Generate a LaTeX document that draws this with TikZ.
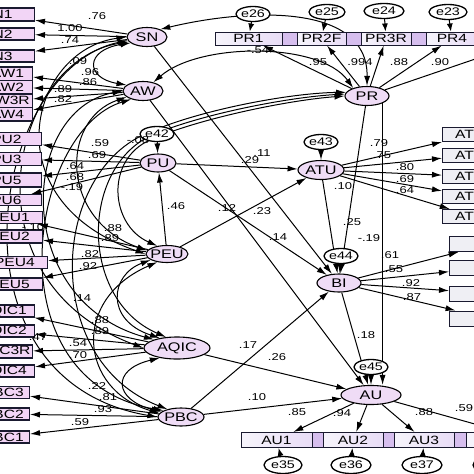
\documentclass[tikz,border=0pt]{standalone}
\usepackage{fontspec}
\setmainfont{Liberation Sans}[FakeStretch=1.3]
\usetikzlibrary{arrows.meta,shapes.geometric}
\pgfdeclarelayer{bg}
\pgfsetlayers{bg,main}
\definecolor{latfill}{HTML}{EFDCF6}
\definecolor{boxpink}{HTML}{F2D5F6}
\definecolor{boxline}{HTML}{1A1A30}
\definecolor{tleft}{HTML}{F6F4FB}
\definecolor{tright}{HTML}{E8DCF6}
\definecolor{tsm}{HTML}{D6BEEE}
\definecolor{rgray}{HTML}{EFEFF4}
\begin{document}
\begin{tikzpicture}[x=1pt,y=-1pt,
  lat/.style={ellipse,draw=black,line width=1.1pt,fill=latfill,inner sep=0pt,inner xsep=-4pt,font=\fontsize{12.5}{13}\selectfont},
  err/.style={ellipse,draw=black,line width=1.3pt,fill=white,inner sep=0pt,inner xsep=-1pt,font=\fontsize{11}{12}\selectfont},
  lbox/.style={rectangle,draw=boxline,line width=1.1pt,fill=boxpink,minimum height=13pt,inner sep=0pt,anchor=east,font=\fontsize{12}{13}\selectfont},
  tmain/.style={rectangle,draw=boxline,line width=1pt,left color=tleft,right color=tright,minimum height=13pt,inner sep=0pt,font=\fontsize{12}{13}\selectfont},
  tsmall/.style={rectangle,draw=boxline,line width=1pt,fill=tsm,minimum height=13pt,inner sep=0pt},
  rbox/.style={rectangle,draw=boxline,line width=1pt,fill=rgray,minimum width=64pt,minimum height=14pt,inner sep=0pt,anchor=west,font=\fontsize{12}{13}\selectfont},
  arr/.style={-{Latex[length=10pt,width=6pt]},line width=1pt},
  earr/.style={-{Latex[length=8pt,width=6pt]},line width=1pt},
  cov/.style={{Latex[length=10pt,width=6pt]}-{Latex[length=10pt,width=6pt]},line width=1pt},
  lab/.style={inner sep=0pt,font=\fontsize{10}{11}\selectfont},
]
\useasboundingbox (0,0) rectangle (474,474);
\begin{scope}
\clip (0,0) rectangle (474,474);
% latent variables
\node[lat,minimum width=40pt,minimum height=19pt] (sn) at (147,37) {SN};
\node[lat,minimum width=40pt,minimum height=19pt] (aw) at (143,91) {AW};
\node[lat,minimum width=36pt,minimum height=18pt] (pu) at (158,163) {PU};
\node[lat,minimum width=42pt,minimum height=17pt] (peu) at (167,254) {PEU};
\node[lat,minimum width=66pt,minimum height=22pt] (aqic) at (177,348) {AQIC};
\node[lat,minimum width=46pt,minimum height=18pt] (pbc) at (181,417) {PBC};
\node[lat,minimum width=44pt,minimum height=19pt] (pr) at (367,96) {PR};
\node[lat,minimum width=46pt,minimum height=19pt] (atu) at (321,170) {ATU};
\node[lat,minimum width=44pt,minimum height=18pt] (bi) at (339,283) {BI};
\node[lat,minimum width=60pt,minimum height=19pt] (au) at (371,395) {AU};
% error terms
\node[err,minimum width=34pt,minimum height=15pt] (e42) at (157,134) {e42};
\node[err,minimum width=34pt,minimum height=15pt] (e43) at (321,142) {e43};
\node[err,minimum width=34pt,minimum height=15pt] (e44) at (341,256) {e44};
\node[err,minimum width=34pt,minimum height=15pt] (e45) at (371,367) {e45};
\node[err,minimum width=34pt,minimum height=15pt] (e26) at (253,14) {e26};
\node[err,minimum width=36pt,minimum height=15pt] (e25) at (327,12) {e25};
\node[err,minimum width=40pt,minimum height=15pt] (e24) at (384,11) {e24};
\node[err,minimum width=38pt,minimum height=15pt] (e23) at (448,12) {e23};
\node[err,minimum width=38pt,minimum height=17pt] (e35) at (283,465) {e35};
\node[err,minimum width=40pt,minimum height=17pt] (e36) at (351,465) {e36};
\node[err,minimum width=40pt,minimum height=17pt] (e37) at (422,465) {e37};
\node[err,minimum width=40pt,minimum height=17pt] (e38) at (493,465) {};
% top indicators
\node[tmain,minimum width=67pt] (pr1) at (248.5,38.5) {PR1};
\node[tsmall,minimum width=15pt] (pr1s) at (289.5,38.5) {};
\node[tmain,minimum width=49pt] (pr2f) at (321.5,38.5) {PR2F};
\node[tsmall,minimum width=15pt] (pr2fs) at (353.5,38.5) {};
\node[tmain,minimum width=50pt] (pr3r) at (386,38.5) {PR3R};
\node[tsmall,minimum width=15pt] (pr3rs) at (418.5,38.5) {};
\node[tmain,minimum width=52pt] (pr4) at (452,38.5) {PR4};
\node[tsmall,minimum width=15pt] (pr4s) at (485.5,38.5) {};
% bottom indicators
\node[tmain,minimum width=71pt,minimum height=15pt] (au1) at (276.5,440) {AU1};
\node[tsmall,minimum width=11pt,minimum height=15pt] (au1s) at (317.5,440) {};
\node[tmain,minimum width=60pt,minimum height=15pt] (au2) at (353,440) {AU2};
\node[tsmall,minimum width=11pt,minimum height=15pt] (au2s) at (388.5,440) {};
\node[tmain,minimum width=60pt,minimum height=15pt] (au3) at (424,440) {AU3};
\node[tsmall,minimum width=12pt,minimum height=15pt] (au3s) at (460,440) {};
\node[tmain,minimum width=132pt,minimum height=15pt] (au4) at (532,440) {};
% left indicators
\node[lbox,minimum width=74pt] (sn1) at (35,14.5) {SN1};
\node[lbox,minimum width=74pt,minimum height=12pt] (sn2) at (35,34) {SN2};
\node[lbox,minimum width=74pt,minimum height=12pt] (sn3) at (35,56) {SN3};
\node[lbox,minimum width=50pt,minimum height=13.5pt] (aw1) at (33,73.75) {AW1};
\node[lbox,minimum width=50pt,minimum height=13.5pt] (aw2) at (33,87.25) {AW2};
\node[lbox,minimum width=50pt,minimum height=13.5pt] (aw3r) at (33,100.75) {AW3R};
\node[lbox,minimum width=50pt,minimum height=13.5pt] (aw4) at (33,114.25) {AW4};
\node[lbox,minimum width=70pt] (pu2) at (42,139) {PU2};
\node[lbox,minimum width=70pt] (pu3) at (42,159) {PU3};
\node[lbox,minimum width=70pt,minimum height=14pt] (pu5) at (42,180) {PU5};
\node[lbox,minimum width=70pt,minimum height=11pt] (pu6) at (42,200) {PU6};
\node[lbox,minimum width=66pt,minimum height=12pt] (peu1) at (43,217.5) {PEU1};
\node[lbox,minimum width=66pt] (peu2) at (43,236.5) {PEU2};
\node[lbox,minimum width=66pt,minimum height=12pt] (peu4) at (48,262.5) {PEU4};
\node[lbox,minimum width=66pt,minimum height=12pt] (peu5) at (43,284) {PEU5};
\node[lbox,minimum width=62pt,minimum height=12pt] (aqic1) at (35,311) {AQIC1};
\node[lbox,minimum width=62pt,minimum height=12pt] (aqic2) at (35,331) {AQIC2};
\node[lbox,minimum width=62pt] (aqic3r) at (33,351.5) {AQIC3R};
\node[lbox,minimum width=62pt,minimum height=12pt] (aqic4) at (35,371) {AQIC4};
\node[lbox,minimum width=52pt,minimum height=12pt] (pbc3) at (30,392.5) {PBC3};
\node[lbox,minimum width=52pt,minimum height=12pt] (pbc2) at (30,414) {PBC2};
\node[lbox,minimum width=52pt,minimum height=12pt] (pbc1) at (30,437) {PBC1};
% right indicators
\node[rbox] (atu1) at (442,134.5) {ATU1};
\node[rbox] (atu2) at (442,155) {ATU2};
\node[rbox] (atu3) at (442,176.5) {ATU3};
\node[rbox] (atu4) at (442,196.5) {ATU4};
\node[rbox] (atu5) at (442,216.5) {ATU5};
\node[rbox,minimum width=80pt,minimum height=15pt] (bi1) at (449,244) {};
\node[rbox,minimum width=80pt,minimum height=15pt] (bi2) at (449,267.5) {};
\node[rbox,minimum width=80pt,minimum height=15pt] (bi3) at (449,293.5) {};
\node[rbox,minimum width=80pt,minimum height=15pt] (bi4) at (449,318.5) {};
\coordinate (pr5) at (525,42);
% labels
\node[lab] (l1) at (97,16) {.76};
\node[lab] (l2) at (70,28) {1.00};
\node[lab] (l3) at (70,40) {.74};
\node[lab] (l4) at (78,61) {.09};
\node[lab] (l5) at (90,72) {.96};
\node[lab] (l6) at (88,82.5) {.86};
\node[lab] (l7) at (63,89) {.89};
\node[lab] (l8) at (63,99.5) {.82};
\node[lab] (l9) at (100,143) {.59};
\node[lab] (l10) at (138,140) {-.08};
\node[lab] (l11) at (97,155) {.69};
\node[lab] (l12) at (75,166.5) {.64};
\node[lab] (l13) at (75,177) {.68};
\node[lab] (l14) at (72,187.5) {-.19};
\node[lab] (l15) at (113,228) {.88};
\node[lab] (l16) at (33,227) {-.10};
\node[lab] (l17) at (110,238.5) {.89};
\node[lab] (l18) at (90,254) {.82};
\node[lab] (l19) at (88,266) {.92};
\node[lab] (l20) at (82,298) {.14};
\node[lab] (l21) at (100,320) {.88};
\node[lab] (l22) at (100,331) {.89};
\node[lab] (l23) at (38,337) {.47};
\node[lab] (l24) at (78,343) {.54};
\node[lab] (l25) at (78,355) {.70};
\node[lab] (l26) at (97,386) {.22};
\node[lab] (l27) at (108,397) {.81};
\node[lab] (l28) at (103,409) {.93};
\node[lab] (l29) at (80,422) {.59};
\node[lab] (l30) at (258,50) {-.54};
\node[lab] (l31) at (318,62) {.95};
\node[lab] (l32) at (360,62) {.994};
\node[lab] (l33) at (399,62) {.88};
\node[lab] (l34) at (440,62) {.90};
\node[lab] (l35) at (262,153) {.11};
\node[lab] (l36) at (250,160) {.29};
\node[lab] (l37) at (176,206) {.46};
\node[lab] (l38) at (227,208) {.12};
\node[lab] (l39) at (262,211) {.23};
\node[lab] (l40) at (278,237) {.14};
\node[lab] (l41) at (379,143) {.79};
\node[lab] (l42) at (382,155) {.75};
\node[lab] (l43) at (405,167) {.80};
\node[lab] (l44) at (405,179) {.69};
\node[lab] (l45) at (405,190) {.64};
\node[lab] (l46) at (343,186) {.10};
\node[lab] (l47) at (352,222) {.25};
\node[lab] (l48) at (369,238) {-.19};
\node[lab] (l49) at (390,255) {.61};
\node[lab] (l50) at (394,269) {.55};
\node[lab] (l51) at (411,283) {.92};
\node[lab] (l52) at (412,297) {.87};
\node[lab] (l53) at (366,335) {.18};
\node[lab] (l54) at (248,345) {.17};
\node[lab] (l55) at (277,357) {.26};
\node[lab] (l56) at (257,397) {.10};
\node[lab] (l57) at (297,412) {.85};
\node[lab] (l58) at (342,413) {.94};
\node[lab] (l59) at (424,412) {.88};
\node[lab] (l60) at (464,408) {.59};
\end{scope}
\begin{pgfonlayer}{bg}
\clip (0,0) rectangle (474,474);
% measurement arrows
\foreach \b in {sn1,sn2,sn3} \draw[arr] (sn) -- (\b);
\foreach \b in {aw1,aw2,aw3r,aw4} \draw[arr] (aw) -- (\b);
\foreach \b in {pu2,pu3,pu5,pu6} \draw[arr] (pu) -- (\b);
\foreach \b in {peu1,peu2,peu4,peu5} \draw[arr] (peu) -- (\b);
\foreach \b in {aqic1,aqic2,aqic3r,aqic4} \draw[arr] (aqic) -- (\b);
\foreach \b in {pbc3,pbc2,pbc1} \draw[arr] (pbc) -- (\b);
\foreach \b in {pr1,pr2f,pr3r,pr4} \draw[arr] (pr) -- (\b);
\draw[arr] (pr) -- (pr5);
\foreach \b in {atu1,atu2,atu3,atu4,atu5} \draw[arr] (atu) -- (\b);
\foreach \b in {bi1,bi2,bi3,bi4} \draw[arr] (bi) -- (\b);
\foreach \b in {au1,au2,au3,au4} \draw[arr] (au) -- (\b);
% error arrows
\draw[earr] (e26) -- (pr1);
\draw[earr] (e25) -- (pr2f);
\draw[earr] (e24) -- (pr3r);
\draw[earr] (e23) -- (pr4);
\draw[earr] (e35) -- (au1);
\draw[earr] (e36) -- (au2);
\draw[earr] (e37) -- (au3);
\draw[earr] (e38) -- (au4);
\draw[arr] (e42) -- (pu);
\draw[arr] (e43) -- (atu);
\draw[arr] (e44) -- (bi);
\draw[arr] (e45) -- (au);
% structural paths
\draw[arr] (sn) -- (bi);
\draw[arr] (aw) -- (au);
\draw[arr] (pu) -- (atu);
\draw[arr] (pu) -- (bi);
\draw[arr] (peu) -- (pu);
\draw[arr] (peu) -- (atu);
\draw[arr] (atu) -- (bi);
\draw[arr] (pr) -- (bi);
\draw[arr] (pr.-25) -- (au.north -| pr.-25);
\draw[arr] (bi) -- (au);
\draw[arr] (aqic) -- (au);
\draw[arr] (pbc) -- (bi);
\draw[arr] (pbc) -- (au);
% covariances
\draw[cov] (sn.200) .. controls (85,50) and (85,78) .. (aw.160);
\draw[cov] (sn.30) .. controls (240,10) and (368,0) .. (pr.north);
\draw[cov] (aw.40) .. controls (200,42) and (320,42) .. (pr.150);
\draw[cov] (peu.140) .. controls (110,225) and (105,160) .. (150,140) .. controls (200,118) and (290,100) .. (pr.180);
\draw[cov] (aqic.135) .. controls (80,300) and (80,170) .. (150,136) .. controls (200,114) and (290,97) .. (pr.175);
\draw[cov] (pbc.150) .. controls (40,360) and (50,170) .. (150,132) .. controls (200,110) and (290,93) .. (pr.170);
\draw[cov] (sn.west) .. controls (30,50) and (-10,200) .. (peu.west);
\draw[cov] (sn.195) .. controls (10,60) and (-40,280) .. (aqic.west);
\draw[cov] (sn.190) .. controls (-10,70) and (-60,380) .. (pbc.west);
\draw[cov] (aw.200) .. controls (60,120) and (60,220) .. (peu.170);
\draw[cov] (aw.west) .. controls (20,110) and (10,300) .. (aqic.160);
\draw[cov] (aw.215) .. controls (30,130) and (-10,380) .. (pbc.160);
\draw[cov] (peu.200) .. controls (110,275) and (105,320) .. (aqic.150);
\draw[cov] (aqic.210) .. controls (110,370) and (115,400) .. (pbc.165);
\draw[cov] (peu.220) .. controls (70,300) and (80,390) .. (pbc.170);
\end{pgfonlayer}
\end{tikzpicture}
\end{document}
